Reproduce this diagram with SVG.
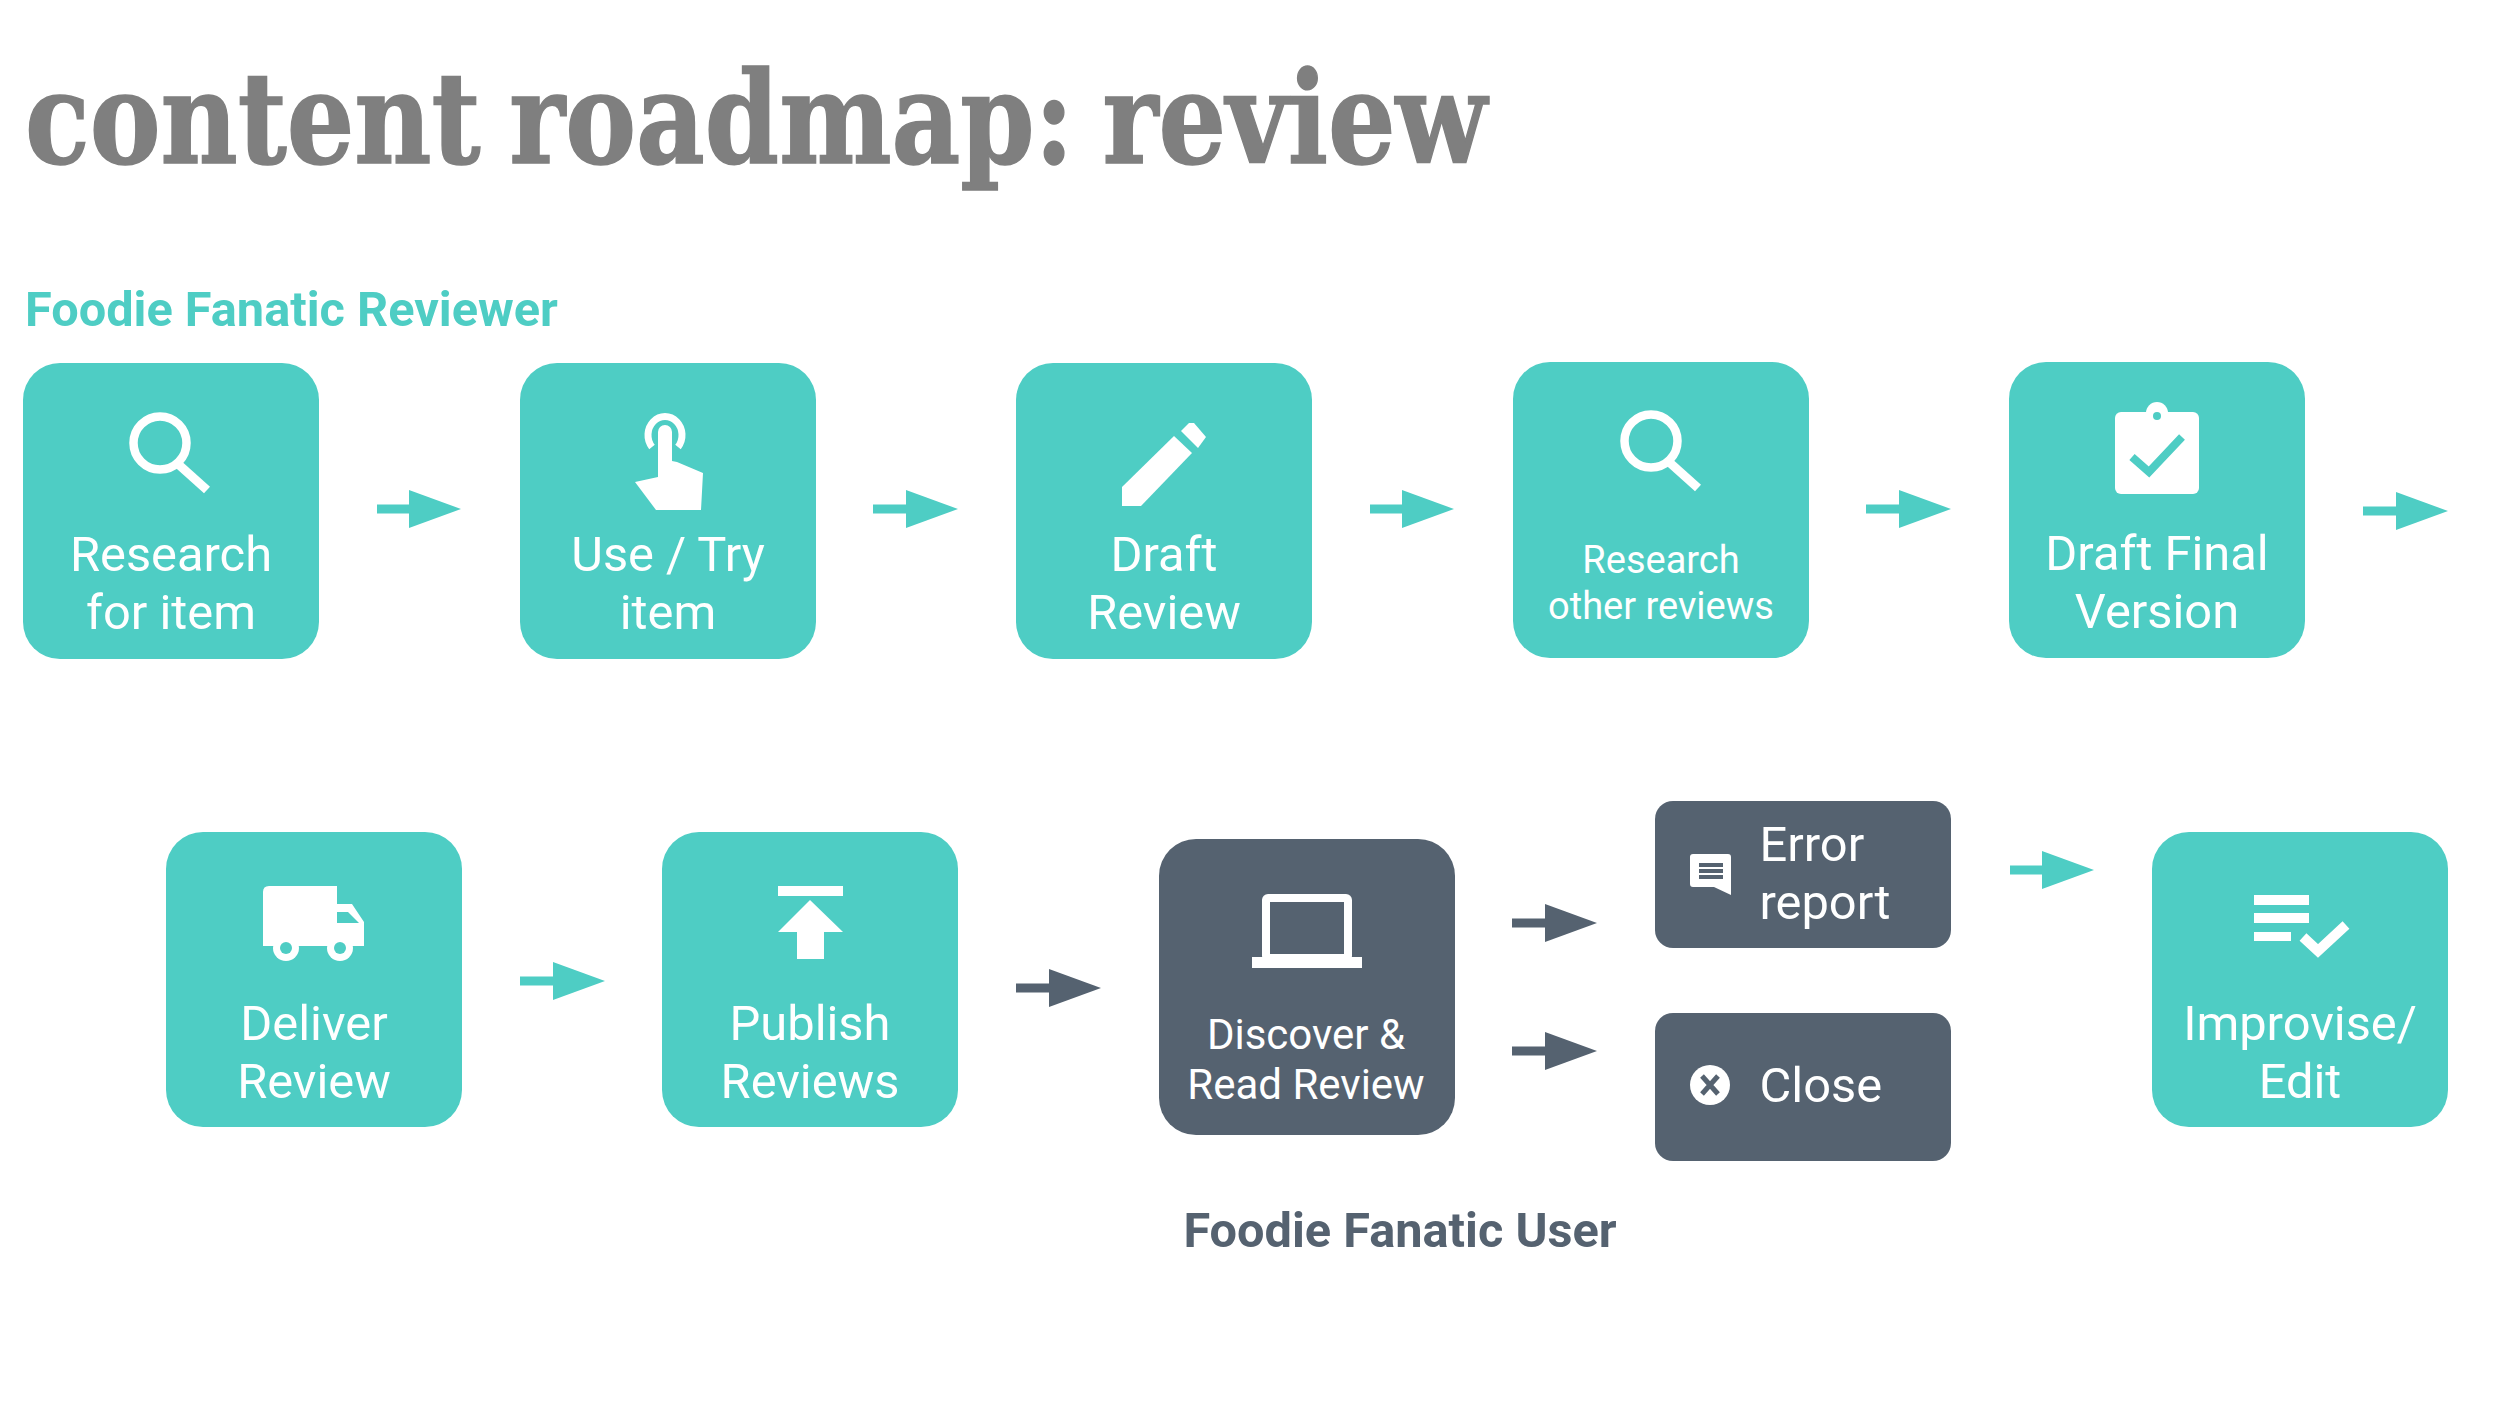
<svg xmlns="http://www.w3.org/2000/svg" width="2500" height="1406" viewBox="0 0 2500 1406">
<style>
.t{fill:#4ecdc4}.d{fill:#556270}.w{fill:#fff}
text{font-family:Roboto,"Liberation Sans",sans-serif}
.l{font-size:48.8px;fill:#fff;text-anchor:middle}
.s{font-size:38px;fill:#fff;text-anchor:middle}
.m{font-size:42px;fill:#fff;text-anchor:middle}
.e{font-size:48.8px;fill:#fff}
.h{font-size:48.7px;font-weight:700}
.ct{stroke:#4ecdc4;stroke-width:9;fill:none}
.cd{stroke:#556270;stroke-width:9;fill:none}
.i{fill:none;stroke:#fff}
</style>
<defs>
<marker id="at" markerUnits="userSpaceOnUse" markerWidth="53" markerHeight="38" refX="1" refY="19" orient="auto"><path d="M0 0L52 19L0 38Z" fill="#4ecdc4"/></marker>
<marker id="ad" markerUnits="userSpaceOnUse" markerWidth="53" markerHeight="38" refX="1" refY="19" orient="auto"><path d="M0 0L52 19L0 38Z" fill="#556270"/></marker>
</defs>
<rect width="2500" height="1406" fill="#fff"/>
<text id="title" x="25" y="163" font-size="128" font-weight="700" word-spacing="-10" textLength="1462" lengthAdjust="spacingAndGlyphs" fill="#7f7f7f" stroke="#7f7f7f" stroke-width="1.5" style="font-family:'DejaVu Serif','Liberation Serif',serif">content roadmap: review</text>
<text id="reviewer-label" class="h t" x="25" y="326">Foodie Fanatic Reviewer</text>
<text id="user-label" class="h d" x="1400" y="1247" text-anchor="middle">Foodie Fanatic User</text>
<g id="connectors">
<line class="ct" x1="377" y1="509" x2="410" y2="509" marker-end="url(#at)"/>
<line class="ct" x1="873" y1="509" x2="907" y2="509" marker-end="url(#at)"/>
<line class="ct" x1="1370" y1="509" x2="1403" y2="509" marker-end="url(#at)"/>
<line class="ct" x1="1866" y1="509" x2="1900" y2="509" marker-end="url(#at)"/>
<line class="ct" x1="2363" y1="511" x2="2397" y2="511" marker-end="url(#at)"/>
<line class="ct" x1="520" y1="981" x2="554" y2="981" marker-end="url(#at)"/>
<line class="cd" x1="1016" y1="988" x2="1050" y2="988" marker-end="url(#ad)"/>
<line class="cd" x1="1512" y1="923" x2="1546" y2="923" marker-end="url(#ad)"/>
<line class="cd" x1="1512" y1="1051" x2="1546" y2="1051" marker-end="url(#ad)"/>
<line class="ct" x1="2010" y1="870" x2="2043" y2="870" marker-end="url(#at)"/>
</g>
<g id="research-item">
<rect class="t" x="23" y="363" width="296" height="296" rx="37"/>
<circle class="i" cx="160" cy="443" r="26.5" stroke-width="8.5"/><path class="i" d="M178 464L207 490" stroke-width="9"/>
<text class="l" x="171" y="571">Research</text><text class="l" x="171" y="629">for item</text>
</g>
<g id="use-try">
<rect class="t" x="520" y="363" width="296" height="296" rx="37"/>
<path class="i" d="M652 447A17 18.500 0 1 1 678 447" stroke-width="7"/>
<path class="w" d="M635 482L658 477V432A7 7 0 0 1 672 432V461L677 462L703 473L701 510H656Z"/>
<text class="l" x="668" y="571">Use / Try</text><text class="l" x="668" y="629">item</text>
</g>
<g id="draft-review">
<rect class="t" x="1016" y="363" width="296" height="296" rx="37"/>
<path class="w" d="M1122 506H1141L1192 453L1174 436L1122 487Z"/>
<path class="w" d="M1181 431L1189 423H1194L1206 437L1198 448Z"/>
<text class="l" x="1164" y="571">Draft</text><text class="l" x="1164" y="629">Review</text>
</g>
<g id="research-reviews">
<rect class="t" x="1513" y="362" width="296" height="296" rx="37"/>
<circle class="i" cx="1651" cy="441" r="26.5" stroke-width="8.5"/><path class="i" d="M1669 462L1698 488" stroke-width="9"/>
<text class="s" x="1661" y="573">Research</text><text class="s" x="1661" y="619">other reviews</text>
</g>
<g id="draft-final">
<rect class="t" x="2009" y="362" width="296" height="296" rx="37"/>
<rect class="w" x="2115" y="412" width="84" height="82" rx="6"/>
<circle class="w" cx="2157" cy="413" r="11"/><circle class="t" cx="2157" cy="416" r="4"/>
<path d="M2132 457L2149 472L2182 437" fill="none" stroke="#4ecdc4" stroke-width="8"/>
<text class="l" x="2157" y="570">Draft Final</text><text class="l" x="2157" y="628">Version</text>
</g>
<g id="deliver">
<rect class="t" x="166" y="832" width="296" height="295" rx="37"/>
<path class="w" d="M263 892Q263 886 269 886H337V904H352L364 922V946H263Z"/>
<path class="t" d="M337 912H348L359 923H337Z"/>
<circle class="w" cx="286" cy="948" r="13"/><circle class="t" cx="286" cy="948" r="6"/>
<circle class="w" cx="340" cy="948" r="13"/><circle class="t" cx="340" cy="948" r="6"/>
<text class="l" x="314" y="1040">Deliver</text><text class="l" x="314" y="1098">Review</text>
</g>
<g id="publish">
<rect class="t" x="662" y="832" width="296" height="295" rx="37"/>
<rect class="w" x="778" y="886" width="65" height="10"/>
<path class="w" d="M810 900L843 932H824V959H797V932H778Z"/>
<text class="l" x="810" y="1040">Publish</text><text class="l" x="810" y="1098">Reviews</text>
</g>
<g id="discover">
<rect class="d" x="1159" y="839" width="296" height="296" rx="37"/>
<rect class="i" x="1266" y="898" width="82" height="60" rx="2" stroke-width="8"/>
<rect class="w" x="1252" y="957" width="110" height="11"/>
<text class="m" x="1306" y="1049">Discover &amp;</text><text class="m" x="1306" y="1099">Read Review</text>
</g>
<g id="error-report">
<rect class="d" x="1655" y="801" width="296" height="147" rx="18"/>
<path class="w" d="M1690 857Q1690 854 1693 854H1728Q1731 854 1731 857V895L1714 887H1693Q1690 887 1690 884Z"/>
<path d="M1699 865H1723M1699 871H1723M1699 877H1723" stroke="#556270" stroke-width="4" fill="none"/>
<text class="e" x="1759.500" y="861">Error</text><text class="e" x="1759.500" y="919">report</text>
</g>
<g id="close">
<rect class="d" x="1655" y="1013" width="296" height="148" rx="18"/>
<circle class="w" cx="1710" cy="1085" r="20"/>
<path d="M1702 1076L1718 1094M1718 1076L1702 1094" stroke="#556270" stroke-width="5" fill="none"/>
<text class="e" x="1759.500" y="1102">Close</text>
</g>
<g id="improvise">
<rect class="t" x="2152" y="832" width="296" height="295" rx="37"/>
<rect class="w" x="2254" y="895" width="55" height="10"/><rect class="w" x="2254" y="913" width="55" height="10"/><rect class="w" x="2254" y="932" width="37" height="9"/>
<path class="i" d="M2303 937L2318 951L2346 925" stroke-width="10"/>
<text class="l" x="2300" y="1040">Improvise/</text><text class="l" x="2300" y="1098">Edit</text>
</g>
</svg>
